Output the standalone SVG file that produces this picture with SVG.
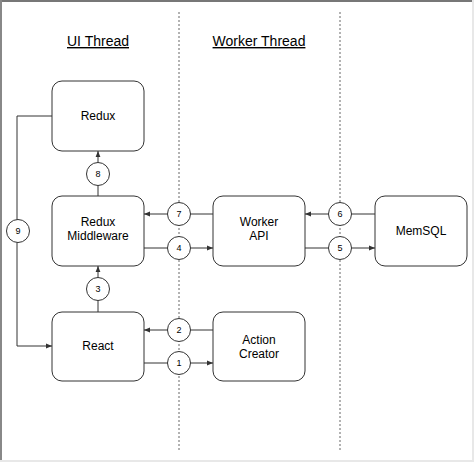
<svg xmlns="http://www.w3.org/2000/svg" width="474" height="462" viewBox="0 0 474 462">
<style>
.box{fill:#fff;stroke:#333;stroke-width:1}
.lbl{font-family:"Liberation Sans",Arial,sans-serif;font-size:12px;fill:#000;text-anchor:middle}
.title{font-family:"Liberation Sans",Arial,sans-serif;font-size:14px;fill:#000;text-anchor:middle;text-decoration:underline}
.num{font-family:"Liberation Sans",Arial,sans-serif;font-size:9px;fill:#000;text-anchor:middle}
.c{fill:#fff;stroke:#333;stroke-width:1}
.ln{fill:none;stroke:#333;stroke-width:1}
.sep{stroke:#666;stroke-width:1;stroke-dasharray:2 2}
</style>
<defs>
<marker id="ah" viewBox="0 0 10 10" refX="10" refY="5" markerWidth="6" markerHeight="6" markerUnits="userSpaceOnUse" orient="auto">
<path d="M0,1 L10,5 L0,9 Z" fill="#333"/>
</marker>
</defs>
<rect x="0" y="0" width="474" height="462" fill="#fff"/>
<rect x="0" y="0" width="474" height="2" fill="#777"/>
<rect x="0" y="0" width="2" height="462" fill="#888"/>
<rect x="472" y="0" width="2" height="462" fill="#e8e8e8"/>
<rect x="0" y="460" width="474" height="2" fill="#e8e8e8"/>

<g id="separators">
<line class="sep" x1="179" y1="12" x2="179" y2="450"/>
<line class="sep" x1="340" y1="12" x2="340" y2="450"/>
</g>
<g id="titles">
<text class="title" x="98" y="46">UI Thread</text>
<text class="title" x="259" y="46">Worker Thread</text>
</g>

<g id="connectors">
<path class="ln" d="M52,116 H17 V346 H52" marker-end="url(#ah)"/>
<path class="ln" d="M98,196 V151" marker-end="url(#ah)"/>
<path class="ln" d="M98,312 V266" marker-end="url(#ah)"/>
<path class="ln" d="M213,214 H144" marker-end="url(#ah)"/>
<path class="ln" d="M144,248 H213" marker-end="url(#ah)"/>
<path class="ln" d="M375,214 H305" marker-end="url(#ah)"/>
<path class="ln" d="M305,248 H375" marker-end="url(#ah)"/>
<path class="ln" d="M213,330 H144" marker-end="url(#ah)"/>
<path class="ln" d="M144,363 H213" marker-end="url(#ah)"/>
<g id="step-labels">
<circle class="c" cx="18" cy="231" r="11.5"/><text class="num" x="18" y="234">9</text>
<circle class="c" cx="98" cy="174" r="11.5"/><text class="num" x="98" y="177">8</text>
<circle class="c" cx="98" cy="289" r="11.5"/><text class="num" x="98" y="292">3</text>
<circle class="c" cx="179" cy="214" r="11.5"/><text class="num" x="179" y="217">7</text>
<circle class="c" cx="179" cy="248" r="11.5"/><text class="num" x="179" y="251">4</text>
<circle class="c" cx="340" cy="214" r="11.5"/><text class="num" x="340" y="217">6</text>
<circle class="c" cx="340" cy="248" r="11.5"/><text class="num" x="340" y="251">5</text>
<circle class="c" cx="179" cy="330" r="11.5"/><text class="num" x="179" y="333">2</text>
<circle class="c" cx="179" cy="363" r="11.5"/><text class="num" x="179" y="366">1</text>
</g>
</g>

<g id="redux">
<rect class="box" x="52" y="81" width="92" height="70" rx="10"/>
<text class="lbl" x="98" y="120">Redux</text>
</g>
<g id="redux-middleware">
<rect class="box" x="52" y="196" width="92" height="70" rx="10"/>
<text class="lbl" x="98" y="226">Redux</text>
<text class="lbl" x="98" y="240">Middleware</text>
</g>
<g id="react">
<rect class="box" x="52" y="312" width="92" height="69" rx="10"/>
<text class="lbl" x="98" y="350">React</text>
</g>
<g id="worker-api">
<rect class="box" x="213" y="196" width="92" height="70" rx="10"/>
<text class="lbl" x="259" y="226">Worker</text>
<text class="lbl" x="259" y="240">API</text>
</g>
<g id="memsql">
<rect class="box" x="375" y="196" width="92" height="70" rx="10"/>
<text class="lbl" x="421" y="235">MemSQL</text>
</g>
<g id="action-creator">
<rect class="box" x="213" y="312" width="92" height="69" rx="10"/>
<text class="lbl" x="259" y="344">Action</text>
<text class="lbl" x="259" y="358">Creator</text>
</g>
</svg>
